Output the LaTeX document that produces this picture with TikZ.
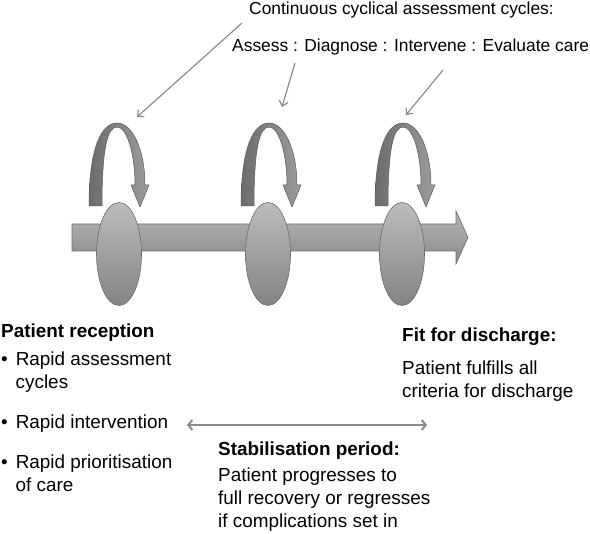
\documentclass[tikz,border=0pt]{standalone}
\usepackage{fontspec}
\setmainfont{Liberation Sans}
\usepackage{xcolor}
\definecolor{BarTop}{HTML}{B3B5B7}
\definecolor{BarBottom}{HTML}{8A8A8A}
\definecolor{EdgeGrey}{HTML}{6A6A6A}
\definecolor{LoopDark}{HTML}{6C6C6C}
\definecolor{LoopLight}{HTML}{9C9C9C}
\definecolor{PointerGrey}{HTML}{8C8C8C}
\usepackage{tikz}
\usetikzlibrary{arrows.meta,positioning}
\tikzset{
  phasebar/.style={
    draw=EdgeGrey,
    line width=0.6pt,
    top color=BarTop,
    bottom color=BarBottom
  },
  phasedisc/.style={
    draw=EdgeGrey,
    line width=0.6pt,
    top color=BarTop!90!white,
    bottom color=BarBottom!95!black
  },
  loopband/.style={
    draw=EdgeGrey!85!black,
    line width=0.5pt,
    left color=LoopDark,
    right color=LoopLight
  },
  cycleloop/.pic={
    \draw[loopband] (-30,0) .. controls (-30,-60) and (-17,-83) .. (-2,-83)
      .. controls (14,-83) and (26,-55) .. (26,-21) -- (30,-21) -- (21,1) -- (12,-21) -- (16,-21)
      .. controls (16,-52) and (8,-79) .. (-2,-79)
      .. controls (-11,-79) and (-17,-60) .. (-17,0) -- cycle;
  },
  pointer/.style={
    draw=PointerGrey,
    line width=1.2pt,
    -{Straight Barb[length=5pt,width=9pt]}
  },
  spanline/.style={
    draw=PointerGrey,
    line width=2pt,
    {Straight Barb[length=4pt,width=10pt]}-{Straight Barb[length=4pt,width=10pt]}
  },
  headtext/.style={
    anchor=base west,
    inner sep=0pt,
    font=\fontsize{17.4}{22}\selectfont
  },
  % base of a multi-line node is its last line
  bodytext/.style={
    anchor=base west,
    inner sep=0pt,
    align=left,
    font=\fontsize{18.9}{23}\selectfont
  }
}

\begin{document}
\begin{tikzpicture}[x=1pt,y=-1pt]
  \useasboundingbox (0,0) rectangle (590,534);
  % timeline with the three assessment points
  \draw[phasebar] (72,224) -- (456,224) -- (456,211) -- (468,237.5) -- (456,264) -- (456,251) -- (72,251) -- cycle;
  \foreach \cx in {119,268,402}{\draw[phasedisc] (\cx,254) ellipse [x radius=22.5, y radius=51.5];}
  \foreach \lx in {119,271,405}{\pic at (\lx,206) {cycleloop};}

  \node[headtext] (cycles) at (249,15) {Continuous cyclical assessment cycles:};
  \node[headtext] (steps) at (232,52) {Assess : Diagnose : Intervene : Evaluate care};

  \coordinate (fromA) at (242,23);
  \coordinate (toA) at (137,117);
  \coordinate (fromB) at (295,63);
  \coordinate (toB) at (282,107);
  \coordinate (fromC) at (443,70);
  \coordinate (toC) at (406,115);
  \foreach \p in {A,B,C}{\draw[pointer] (from\p) -- (to\p);}

  \node[bodytext] (reception) at (1,492) {\textbf{Patient reception}\\[5pt]
    \textbullet\hspace{8pt}Rapid assessment\\
    \hspace*{14.5pt}cycles\\[17pt]
    \textbullet\hspace{8pt}Rapid intervention\\[17pt]
    \textbullet\hspace{8pt}Rapid prioritisation\\
    \hspace*{14.5pt}of care};
  \node[bodytext] (discharge) at (402,398) {\textbf{Fit for discharge:}\\[10pt]Patient fulfills all\\criteria for discharge};
  \node[bodytext] (stabilise) at (218,528) {\textbf{Stabilisation period:}\\[3pt]Patient progresses to\\full recovery or regresses\\if complications set in};

  \coordinate (spanL) at (187,425);
  \coordinate (spanR) at (427,425);
  \draw[spanline] (spanL) -- (spanR);
\end{tikzpicture}
\end{document}
